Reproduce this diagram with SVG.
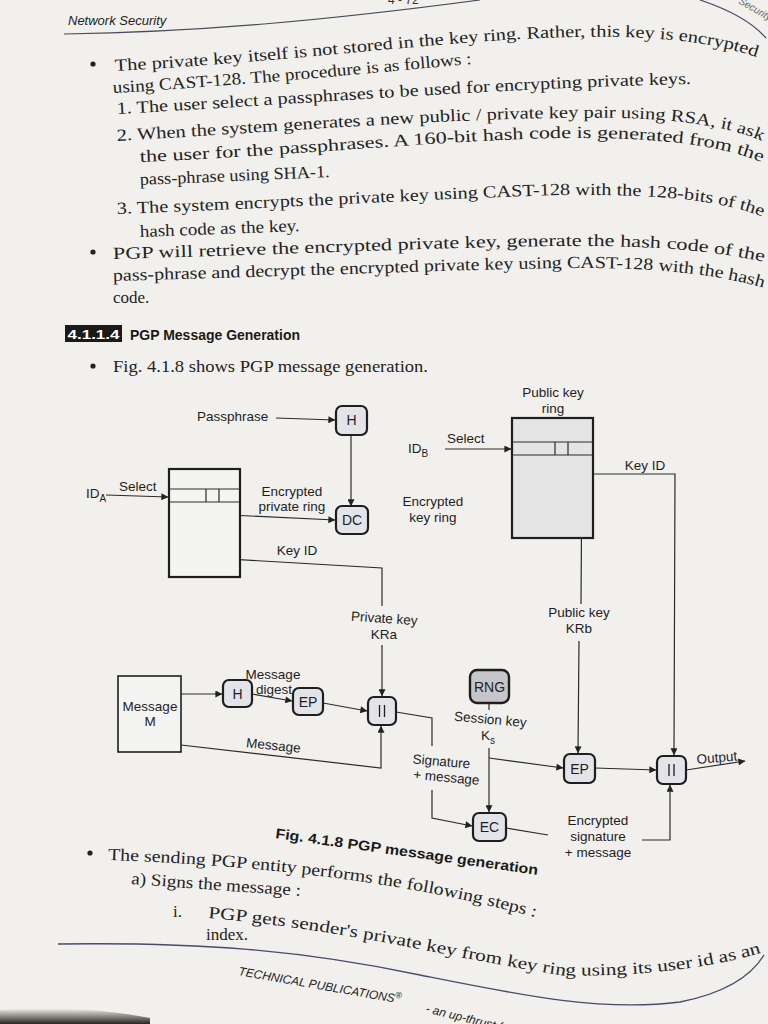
<svg xmlns="http://www.w3.org/2000/svg" width="768" height="1024" viewBox="0 0 768 1024">
<defs>
<style>
.body{font-family:"Liberation Serif","Times New Roman",serif;font-size:17px;fill:#232323}
.lbl{font-family:"Liberation Sans",Arial,sans-serif;font-size:13.5px;fill:#1e1e1e}
.mid{text-anchor:middle}
.node{fill:#e3e3ea;stroke:#1e1e1e;stroke-width:2.2}
.rng{fill:#c6c6ca;stroke:#1e1e1e;stroke-width:2.4}
.ntx{font-family:"Liberation Sans",Arial,sans-serif;font-size:14px;fill:#1e1e1e;text-anchor:middle}
.ring{stroke:#1e1e1e;stroke-width:2.2}
.thin{fill:none;stroke:#2a2a2a;stroke-width:1.2}
.arr{fill:none;stroke:#2a2a2a;stroke-width:1.2;marker-end:url(#ah)}
</style>
<marker id="ah" viewBox="0 0 10 10" refX="9.5" refY="5" markerWidth="9" markerHeight="7" markerUnits="userSpaceOnUse" orient="auto">
<path d="M0,0 L10,5 L0,10 z" fill="#222"/>
</marker>
<linearGradient id="shade" x1="0" y1="0" x2="0" y2="1">
<stop offset="0" stop-color="#2a2420" stop-opacity="0"/>
<stop offset="1" stop-color="#2a2420" stop-opacity="1"/>
</linearGradient>
<path id="p1" d="M115,71 C280,62 400,46 520,39 C620,34 700,36 765,60"/>
<path id="p2" d="M113,93 C250,85 380,72 472,64"/>
<path id="p3" d="M117,114 C300,104 500,88 692,84"/>
<path id="p4" d="M117,141 C300,130 430,120 560,118 C650,116 720,122 764,142"/>
<path id="p5" d="M140,162 C300,155 450,140 560,138 C660,137 720,145 764,163"/>
<path id="p6" d="M140,185 L330,177"/>
<path id="p7" d="M117,214 C300,207 450,198 560,195 C660,194 720,200 764,217"/>
<path id="p8" d="M140,237 L302,231"/>
<path id="p9" d="M113,259 C300,254 450,247 560,246 C660,245 720,252 764,262"/>
<path id="p10" d="M113,281 C300,276 450,270 560,268 C660,267 720,275 764,288"/>
<path id="b1" d="M108,860 C250,865 400,880 534,917"/>
<path id="b2" d="M131,884 L302,896"/>
<path id="b3" d="M208,918 C350,930 450,958 560,975 C640,978 720,966 764,952"/>
</defs>

<rect x="0" y="0" width="768" height="1024" fill="#f1f0ec"/>
<path d="M0,1010 C60,1006 110,1010 150,1018 L150,1024 L0,1024 z" fill="url(#shade)"/>

<!-- header -->
<g id="header">
<text x="68" y="25" font-family="Liberation Sans, Arial, sans-serif" font-style="italic" font-size="13" fill="#222">Network Security</text>
<path d="M64,34 C200,32 330,20 480,0" fill="none" stroke="#4a4a5a" stroke-width="1.2"/>
<path d="M700,0 C730,10 752,22 766,38" fill="none" stroke="#4a4a6a" stroke-width="1.2"/>
<text x="388" y="4" font-family="Liberation Sans, Arial, sans-serif" font-size="12" fill="#333">4 - 72</text>
<text x="738" y="3" transform="rotate(30 738 3)" font-family="Liberation Sans, Arial, sans-serif" font-style="italic" font-size="10" fill="#666">Security</text>
</g>

<!-- body text -->
<g id="bodytext">
<circle cx="93" cy="64" r="2.6" fill="#222"/>
<text class="body"><textPath href="#p1" textLength="645" lengthAdjust="spacingAndGlyphs">The private key itself is not stored in the key ring. Rather, this key is encrypted</textPath></text>
<text class="body"><textPath href="#p2" textLength="360" lengthAdjust="spacingAndGlyphs">using CAST-128. The procedure is as follows :</textPath></text>
<text class="body"><textPath href="#p3" textLength="575" lengthAdjust="spacingAndGlyphs">1. The user select a passphrases to be used for encrypting private keys.</textPath></text>
<text class="body"><textPath href="#p4" textLength="648" lengthAdjust="spacingAndGlyphs">2. When the system generates a new public / private key pair using RSA, it ask</textPath></text>
<text class="body"><textPath href="#p5" textLength="625" lengthAdjust="spacingAndGlyphs">the user for the passphrases. A 160-bit hash code is generated from the</textPath></text>
<text class="body"><textPath href="#p6" textLength="190" lengthAdjust="spacingAndGlyphs">pass-phrase using SHA-1.</textPath></text>
<text class="body"><textPath href="#p7" textLength="648" lengthAdjust="spacingAndGlyphs">3. The system encrypts the private key using CAST-128 with the 128-bits of the</textPath></text>
<text class="body"><textPath href="#p8" textLength="160" lengthAdjust="spacingAndGlyphs">hash code as the key.</textPath></text>
<circle cx="93" cy="252" r="2.6" fill="#222"/>
<text class="body"><textPath href="#p9" textLength="652" lengthAdjust="spacingAndGlyphs">PGP will retrieve the encrypted private key, generate the hash code of the</textPath></text>
<text class="body"><textPath href="#p10" textLength="652" lengthAdjust="spacingAndGlyphs">pass-phrase and decrypt the encrypted private key using CAST-128 with the hash</textPath></text>
<text class="body" x="113" y="303">code.</text>

<rect x="65" y="325" width="57" height="17" fill="#1a1a1a"/>
<text x="93.5" y="338.5" text-anchor="middle" font-family="Liberation Sans, Arial, sans-serif" font-weight="bold" font-size="13" fill="#fff" textLength="52" lengthAdjust="spacingAndGlyphs">4.1.1.4</text>
<text x="130" y="340" font-family="Liberation Sans, Arial, sans-serif" font-weight="bold" font-size="15" fill="#1a1a1a" textLength="170" lengthAdjust="spacingAndGlyphs">PGP Message Generation</text>
<circle cx="93" cy="366" r="2.6" fill="#222"/>
<text class="body" x="113" y="372" textLength="315" lengthAdjust="spacingAndGlyphs">Fig. 4.1.8 shows PGP message generation.</text>
</g>

<!-- connectors -->
<g id="connectors">
<path class="arr" d="M276,418 L335,420"/>
<path class="arr" d="M351,435 L351,506"/>
<path class="arr" d="M106,495 L168,497"/>
<path class="arr" d="M229,502 L229,515 L335,520"/>
<path class="thin" d="M211,502 L211,558 L382,568 L382,606"/>
<path class="arr" d="M382,645 L382,696"/>
<path class="arr" d="M445,449 L511,449"/>
<path class="arr" d="M561,455 L561,474 L675,474 L674,755"/>
<path class="thin" d="M582,455 L581,604"/>
<path class="arr" d="M579,641 L578,753"/>
<path class="arr" d="M181,694 L222,694"/>
<path class="arr" d="M252,694 L292,701"/>
<path class="arr" d="M323,703 L367,711"/>
<path class="arr" d="M181,745 L381,768 L381,726"/>
<path class="thin" d="M396,712 L432,718 L432,746"/>
<path class="arr" d="M432,790 L432,818 L472,826"/>
<path class="thin" d="M489,703 L489,710"/>
<path class="arr" d="M489,748 L489,812"/>
<path class="arr" d="M489,758 L563,768"/>
<path class="arr" d="M595,768 L656,770"/>
<path class="arr" d="M686,770 L745,761"/>
<path class="thin" d="M506,828 L548,835"/>
<path class="arr" d="M642,840 L670,840 L670,785"/>
</g>

<!-- connector labels -->
<g id="labels">
<text class="lbl" x="197" y="421">Passphrase</text>
<text class="lbl" x="86" y="498">ID<tspan font-size="10" dy="4">A</tspan></text>
<text class="lbl" x="119" y="491">Select</text>
<text class="lbl mid" x="292" y="496">Encrypted</text>
<text class="lbl mid" x="292" y="511">private ring</text>
<text class="lbl mid" x="297" y="555">Key ID</text>
<text class="lbl mid" x="384" y="623" transform="rotate(4 384 623)">Private key</text>
<text class="lbl mid" x="384" y="639">KRa</text>
<text class="lbl" x="408" y="453">ID<tspan font-size="10" dy="4">B</tspan></text>
<text class="lbl" x="447" y="443">Select</text>
<text class="lbl mid" x="433" y="506">Encrypted</text>
<text class="lbl mid" x="433" y="522">key ring</text>
<text class="lbl mid" x="553" y="397">Public key</text>
<text class="lbl mid" x="553" y="413">ring</text>
<text class="lbl mid" x="645" y="470">Key ID</text>
<text class="lbl mid" x="579" y="617">Public key</text>
<text class="lbl mid" x="579" y="633">KRb</text>
<text class="lbl mid" x="273" y="679">Message</text>
<text class="lbl mid" x="274" y="694">digest</text>
<text class="lbl mid" x="273" y="750" transform="rotate(6 273 750)">Message</text>
<text class="lbl mid" x="441" y="766" transform="rotate(5 441 766)">Signature</text>
<text class="lbl mid" x="446" y="782" transform="rotate(5 446 782)">+ message</text>
<text class="lbl mid" x="490" y="724" transform="rotate(5 490 724)">Session key</text>
<text class="lbl" x="481" y="740">K<tspan font-size="10" dy="4">s</tspan></text>
<text class="lbl" x="697" y="764" transform="rotate(-5 697 764)">Output</text>
<text class="lbl mid" x="598" y="825">Encrypted</text>
<text class="lbl mid" x="598" y="841">signature</text>
<text class="lbl mid" x="598" y="857">+ message</text>
</g>

<!-- nodes -->
<g id="private-key-ring">
<rect x="169" y="469" width="71" height="108" fill="#f4f4f2" class="ring"/>
<path class="thin" d="M169,489 L240,489 M169,502 L240,502 M206,489 L206,502 M219,489 L219,502"/>
</g>
<g id="public-key-ring">
<rect x="512" y="418" width="81" height="120" fill="#e4e4e4" class="ring"/>
<path class="thin" d="M512,442 L593,442 M512,455 L593,455 M555,442 L555,455 M568,442 L568,455"/>
</g>
<g id="node-h1"><rect class="node" x="336" y="406" width="31" height="29" rx="6"/><text class="ntx" x="351.5" y="425">H</text></g>
<g id="node-dc"><rect class="node" x="336" y="506" width="32" height="28" rx="6"/><text class="ntx" x="352" y="525">DC</text></g>
<g id="message-m"><rect x="118" y="676" width="63" height="76" fill="#f4f4f2" stroke="#1e1e1e" stroke-width="1.6"/><text class="lbl mid" x="150" y="711">Message</text><text class="lbl mid" x="150" y="726">M</text></g>
<g id="node-h2"><rect class="node" x="223" y="680" width="29" height="27" rx="6"/><text class="ntx" x="237.5" y="698.5">H</text></g>
<g id="node-ep1"><rect class="node" x="293" y="688" width="30" height="27" rx="6"/><text class="ntx" x="308" y="706.5">EP</text></g>
<g id="node-concat1"><rect class="node" x="368" y="697" width="28" height="28" rx="6"/><path d="M379.5,705 L379.5,717 M384.5,705 L384.5,717" stroke="#1e1e1e" stroke-width="1.3"/></g>
<g id="node-rng"><rect class="rng" x="470" y="670" width="39" height="33" rx="7"/><text class="ntx" x="489.5" y="691.5">RNG</text></g>
<g id="node-ep2"><rect class="node" x="564" y="754" width="31" height="29" rx="6"/><text class="ntx" x="579.5" y="773.5">EP</text></g>
<g id="node-concat2"><rect class="node" x="657" y="756" width="29" height="28" rx="6"/><path d="M669,764 L669,776 M674,764 L674,776" stroke="#1e1e1e" stroke-width="1.3"/></g>
<g id="node-ec"><rect class="node" x="473" y="813" width="33" height="28" rx="6"/><text class="ntx" x="489.5" y="832">EC</text></g>

<!-- caption and text below -->
<g id="lower-text">
<text x="275" y="838" transform="rotate(8 275 838)" font-family="Liberation Sans, Arial, sans-serif" font-weight="bold" font-size="14" fill="#1a1a1a" textLength="265" lengthAdjust="spacingAndGlyphs">Fig. 4.1.8 PGP message generation</text>
<circle cx="90" cy="853" r="2.6" fill="#222"/>
<text class="body"><textPath href="#b1" textLength="432" lengthAdjust="spacingAndGlyphs">The sending PGP entity performs the following steps :</textPath></text>
<text class="body"><textPath href="#b2" textLength="170" lengthAdjust="spacingAndGlyphs">a) Signs the message :</textPath></text>
<text class="body" x="173" y="917">i.</text>
<text class="body"><textPath href="#b3" textLength="560" lengthAdjust="spacingAndGlyphs">PGP gets sender's private key from key ring using its user id as an</textPath></text>
<text class="body" x="206" y="940">index.</text>
<path d="M58,944 C200,942 300,950 420,975 C520,995 600,1012 680,1002 C720,994 750,978 764,955" fill="none" stroke="#4a4a6a" stroke-width="1.3"/>
<text x="238" y="975" transform="rotate(10 238 975)" font-family="Liberation Sans, Arial, sans-serif" font-style="italic" font-size="12" fill="#222">TECHNICAL PUBLICATIONS<tspan font-size="9" dy="-5">®</tspan></text>
<text x="425" y="1012" transform="rotate(14 425 1012)" font-family="Liberation Sans, Arial, sans-serif" font-style="italic" font-size="12" fill="#222">- an up-thrust fo</text>
</g>
</svg>
